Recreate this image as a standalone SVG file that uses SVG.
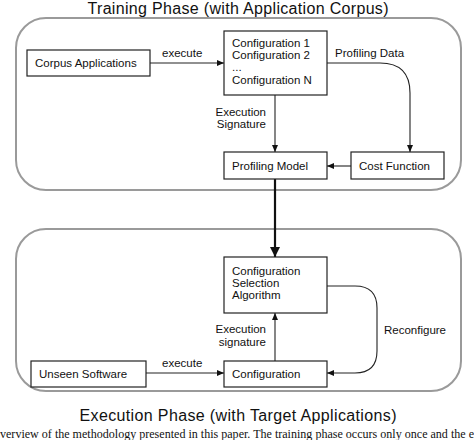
<svg xmlns="http://www.w3.org/2000/svg" width="474" height="440" viewBox="0 0 474 440">
<defs>
<style>
.t{font-family:"Liberation Sans",Arial,sans-serif;font-size:11.5px;fill:#111}
.h{font-family:"Liberation Sans",Arial,sans-serif;font-size:16px;fill:#111}
.box{fill:#fff;stroke:#222;stroke-width:1.2}
.cont{fill:none;stroke:#9a9a9a;stroke-width:2}
.ln{fill:none;stroke:#222;stroke-width:1.1}
</style>
<marker id="ah" markerWidth="8" markerHeight="8" refX="7" refY="4" orient="auto" markerUnits="userSpaceOnUse">
<path d="M0,1 L7,4 L0,7 z" fill="#111"/>
</marker>
<marker id="ahb" markerWidth="12" markerHeight="12" refX="10" refY="5" orient="auto" markerUnits="userSpaceOnUse">
<path d="M0,0 L10,5 L0,10 z" fill="#111"/>
</marker>
</defs>
<rect width="474" height="440" fill="#fff"/>
<text class="h" x="238" y="14" text-anchor="middle" textLength="301">Training Phase (with Application Corpus)</text>
<rect class="cont" x="16" y="18" width="445" height="172" rx="30"/>
<rect class="cont" x="16" y="229" width="445" height="162" rx="30"/>
<text class="h" x="238" y="421" text-anchor="middle" textLength="317">Execution Phase (with Target Applications)</text>
<text x="0" y="438" font-family="Liberation Serif,serif" font-size="11.5" fill="#111" textLength="474" lengthAdjust="spacingAndGlyphs">verview of the methodology presented in this paper. The training phase occurs only once and the e</text>
<g id="connectors">
<line class="ln" x1="150" y1="63" x2="224" y2="63" marker-end="url(#ah)"/>
<text class="t" x="162" y="57">execute</text>
<path class="ln" d="M327,63 H380 Q410,63 410,93 V152" marker-end="url(#ah)"/>
<text class="t" x="335" y="57">Profiling Data</text>
<line class="ln" x1="275" y1="95" x2="275" y2="152" marker-end="url(#ah)"/>
<text class="t" x="266" y="116" text-anchor="end">Execution</text>
<text class="t" x="266" y="128" text-anchor="end">Signature</text>
<line class="ln" x1="351" y1="166" x2="327" y2="166" marker-end="url(#ah)"/>
<line x1="275" y1="179" x2="275" y2="257" stroke="#111" stroke-width="2.2" marker-end="url(#ahb)"/>
<path class="ln" d="M327,286 H355 Q377,286 377,308 V351 Q377,373 355,373 H327" marker-end="url(#ah)"/>
<text class="t" x="384" y="334">Reconfigure</text>
<line class="ln" x1="275" y1="361" x2="275" y2="313" marker-end="url(#ah)"/>
<text class="t" x="266" y="333" text-anchor="end">Execution</text>
<text class="t" x="266" y="346" text-anchor="end">signature</text>
<line class="ln" x1="146" y1="373" x2="224" y2="373" marker-end="url(#ah)"/>
<text class="t" x="162" y="367">execute</text>
</g>
<g id="corpus">
<rect class="box" x="27" y="50" width="123" height="26"/>
<text class="t" x="35" y="67">Corpus Applications</text>
</g>
<g id="configs">
<rect class="box" x="224" y="31" width="103" height="64"/>
<text class="t" x="232" y="47">Configuration 1</text>
<text class="t" x="232" y="59">Configuration 2</text>
<text class="t" x="232" y="71">...</text>
<text class="t" x="232" y="84">Configuration N</text>
</g>
<g id="profiling-model">
<rect class="box" x="224" y="152" width="103" height="27"/>
<text class="t" x="232" y="170">Profiling Model</text>
</g>
<g id="cost-function">
<rect class="box" x="351" y="152" width="93" height="27"/>
<text class="t" x="359" y="170">Cost Function</text>
</g>
<g id="selection">
<rect class="box" x="224" y="257" width="103" height="56"/>
<text class="t" x="232" y="275">Configuration</text>
<text class="t" x="232" y="287">Selection</text>
<text class="t" x="232" y="299">Algorithm</text>
</g>
<g id="unseen">
<rect class="box" x="31" y="361" width="115" height="26"/>
<text class="t" x="39" y="378">Unseen Software</text>
</g>
<g id="configuration">
<rect class="box" x="224" y="361" width="103" height="26"/>
<text class="t" x="232" y="378">Configuration</text>
</g>
</svg>
